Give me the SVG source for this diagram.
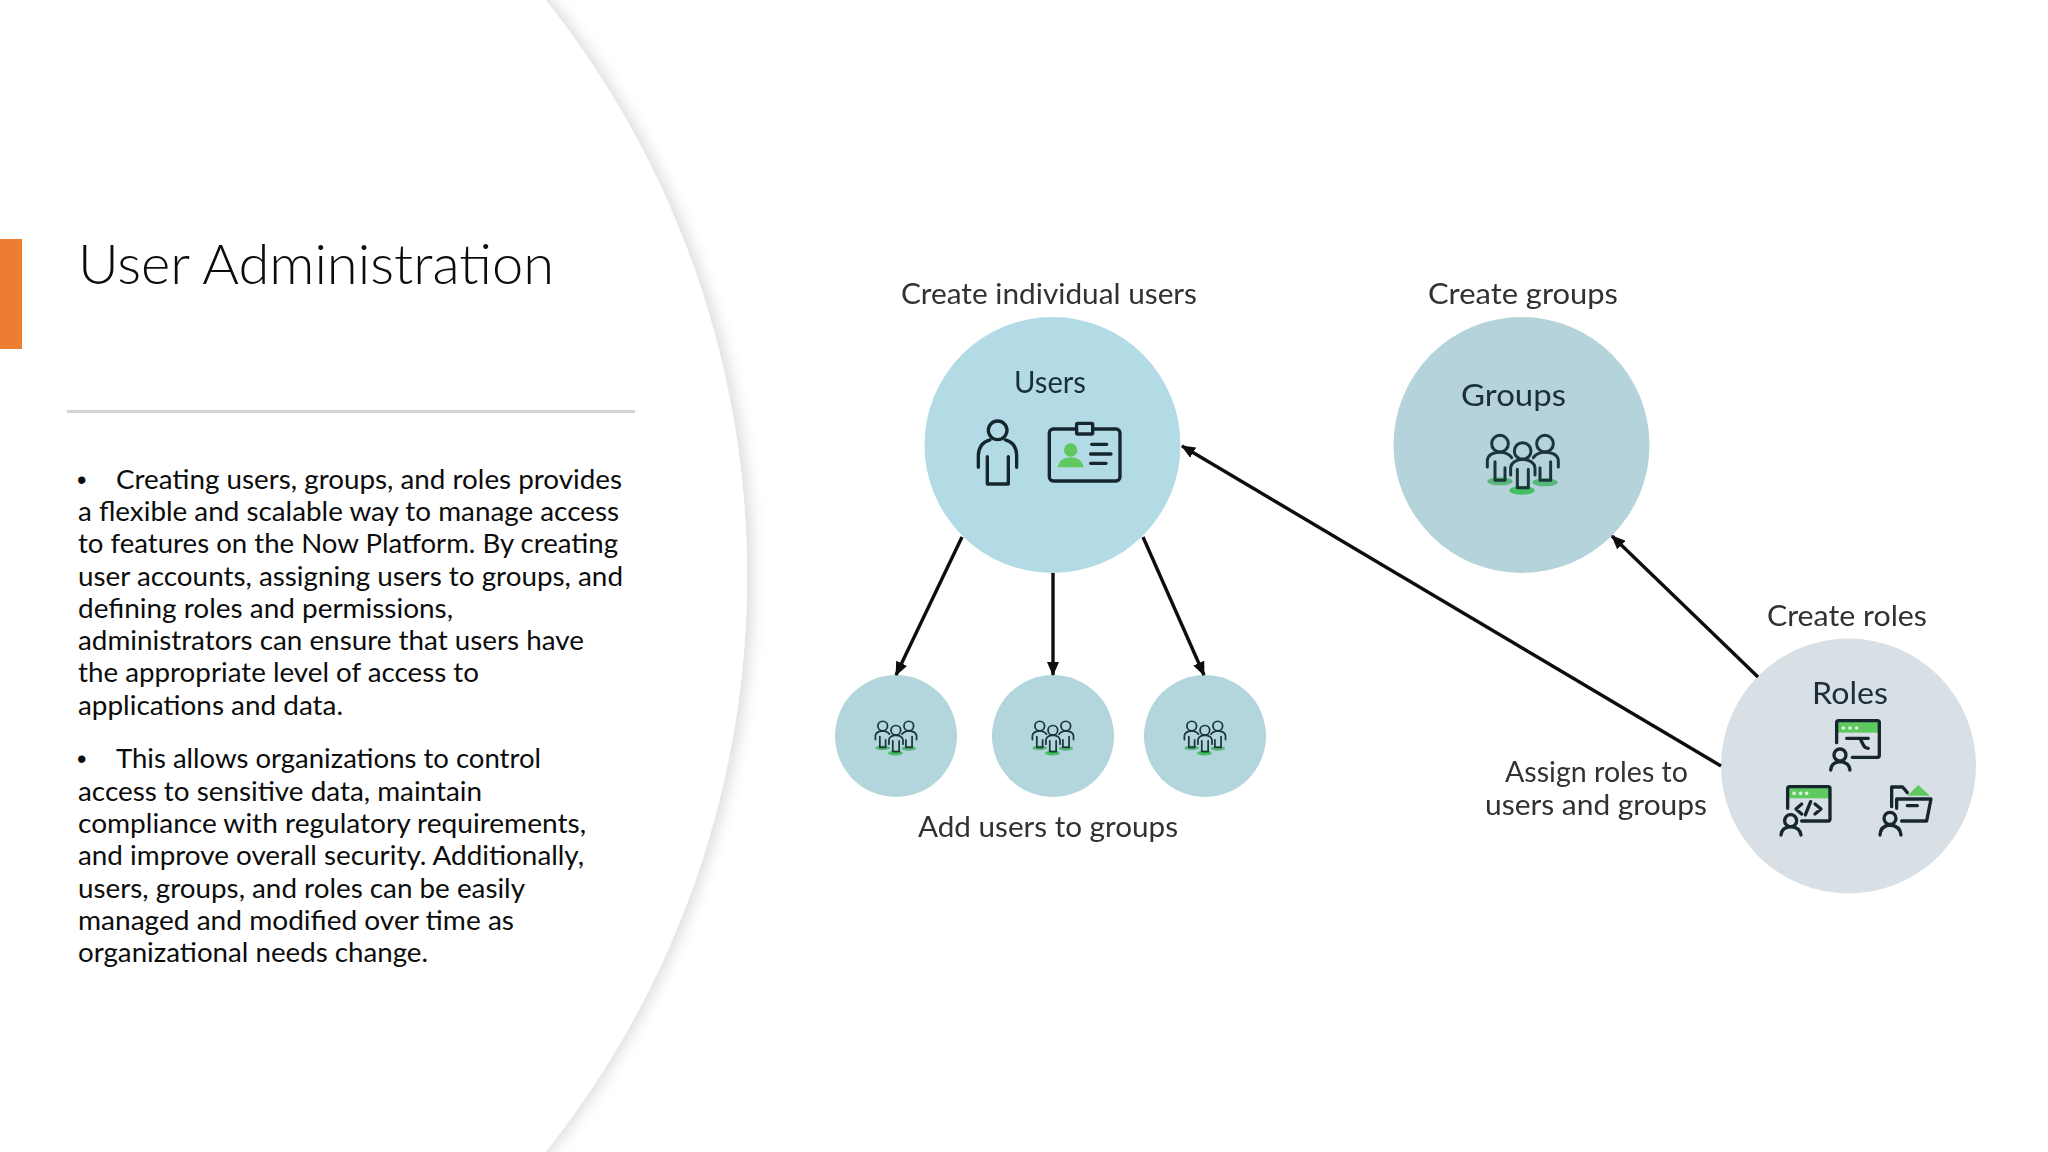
<svg xmlns="http://www.w3.org/2000/svg" xmlns:xlink="http://www.w3.org/1999/xlink" width="2048" height="1152" viewBox="0 0 2048 1152">
<style>
.body{font-family:Lato,"Liberation Sans",sans-serif;font-size:27.5px;fill:#0c0c0c}
.bullet{font-family:"Liberation Sans",sans-serif;font-size:27px;fill:#0c0c0c}
.lab{font-family:Lato,"Liberation Sans",sans-serif;font-size:29px;fill:#303030}
.inner{font-family:Lato,"Liberation Sans",sans-serif;font-size:31px;fill:#1c2f3a}
.ink{fill:none;stroke:#16262e;stroke-width:10;stroke-linecap:round;stroke-linejoin:round}
.teamink{fill:none;stroke:#1a343c;stroke-width:9;stroke-linecap:round;stroke-linejoin:round}
.green{fill:#5fc95f}
.conn{fill:none;stroke:#111;stroke-width:3.4;marker-end:url(#arrow)}
</style>
<defs>
<marker id="arrow" markerUnits="userSpaceOnUse" markerWidth="14" markerHeight="12" refX="13" refY="6" orient="auto"><path d="M0,0 L14,6 L0,12 Z" fill="#111"/></marker>
<filter id="shadow" x="-10%" y="-10%" width="125%" height="120%"><feDropShadow dx="6" dy="0" stdDeviation="7" flood-color="#000" flood-opacity="0.13"/></filter>
<filter id="soft" x="-5%" y="-5%" width="110%" height="110%"><feGaussianBlur stdDeviation="0.6"/></filter>
<g id="team">
<ellipse cx="180" cy="331" rx="38" ry="12" fill="#58b87a"/>
<ellipse cx="315" cy="334" rx="38" ry="12" fill="#58b87a"/>
<ellipse cx="246" cy="358" rx="38" ry="13" fill="#45c060"/>
<circle class="teamink" cx="180" cy="218" r="25"/>
<path class="teamink" d="M142,288 V268 Q145,245 180,243 Q205,245 215,260 M165,272 V328 H195 V290"/>
<circle class="teamink" cx="315" cy="218" r="25"/>
<path class="teamink" d="M355,288 V268 Q352,245 315,243 Q290,245 280,260 M300,290 V328 H332 V272"/>
<circle class="teamink" cx="248" cy="240" r="25"/>
<path class="teamink" d="M212,312 V290 Q215,268 248,265 Q282,268 285,290 V312 M232,295 V350 H265 V295"/>
</g>
</defs>
<rect width="2048" height="1152" fill="#fff"/>
<circle cx="-177" cy="576" r="924" fill="#fff" filter="url(#shadow)"/>
<rect x="0" y="239" width="22" height="110" fill="#ed7d31"/>
<text x="78" y="284" textLength="476" lengthAdjust="spacingAndGlyphs" style="font-family:Lato,'Liberation Sans',sans-serif;font-size:56px;font-weight:300;fill:#0c0c0c">User Administration</text>
<rect x="67" y="410" width="568" height="3" fill="#d2d2d2"/>
<g id="body-text">
<text class="bullet" x="77" y="489">•</text>
<text class="body" x="116" y="489" textLength="506" lengthAdjust="spacingAndGlyphs">Creating users, groups, and roles provides</text>
<text class="body" x="78" y="521" textLength="541" lengthAdjust="spacingAndGlyphs">a flexible and scalable way to manage access</text>
<text class="body" x="78" y="553" textLength="540" lengthAdjust="spacingAndGlyphs">to features on the Now Platform. By creating</text>
<text class="body" x="78" y="586" textLength="545" lengthAdjust="spacingAndGlyphs">user accounts, assigning users to groups, and</text>
<text class="body" x="78" y="618" textLength="375" lengthAdjust="spacingAndGlyphs">defining roles and permissions,</text>
<text class="body" x="78" y="650" textLength="506" lengthAdjust="spacingAndGlyphs">administrators can ensure that users have</text>
<text class="body" x="78" y="682" textLength="401" lengthAdjust="spacingAndGlyphs">the appropriate level of access to</text>
<text class="body" x="78" y="715" textLength="265" lengthAdjust="spacingAndGlyphs">applications and data.</text>
<text class="bullet" x="77" y="768">•</text>
<text class="body" x="116" y="768" textLength="425" lengthAdjust="spacingAndGlyphs">This allows organizations to control</text>
<text class="body" x="78" y="801" textLength="404" lengthAdjust="spacingAndGlyphs">access to sensitive data, maintain</text>
<text class="body" x="78" y="833" textLength="508" lengthAdjust="spacingAndGlyphs">compliance with regulatory requirements,</text>
<text class="body" x="78" y="865" textLength="506" lengthAdjust="spacingAndGlyphs">and improve overall security. Additionally,</text>
<text class="body" x="78" y="898" textLength="447" lengthAdjust="spacingAndGlyphs">users, groups, and roles can be easily</text>
<text class="body" x="78" y="930" textLength="436" lengthAdjust="spacingAndGlyphs">managed and modified over time as</text>
<text class="body" x="78" y="962" textLength="350" lengthAdjust="spacingAndGlyphs">organizational needs change.</text>
</g>
<g id="diagram" filter="url(#soft)">
<g id="node-users">
<circle cx="1052.5" cy="445" r="128" fill="#b2dbe5"/>
<text class="inner" x="1014" y="393" textLength="72" lengthAdjust="spacingAndGlyphs">Users</text>
<g transform="translate(900,260) scale(.3333)">
<circle class="ink" cx="293" cy="511" r="28"/>
<path class="ink" d="M235,622 V585 Q238,548 270,540 M316,540 Q348,548 350,585 V622 M262,590 V672 H325 V590"/>
<rect class="ink" x="448" y="507" width="212" height="156" rx="12"/>
<rect x="530" y="490" width="48" height="32" rx="3" fill="#b2dbe5" stroke="#16262e" stroke-width="10"/>
<circle class="green" cx="512" cy="570" r="20"/>
<path class="green" d="M473,622 Q478,592 512,592 Q546,592 551,622 Z"/>
<path class="ink" d="M575,553 H620 M572,582 H633 M572,610 H618"/>
</g>
</g>
<g id="node-groups">
<circle cx="1521.5" cy="445" r="128" fill="#b5d3da"/>
<text class="inner" x="1461" y="406" textLength="105" lengthAdjust="spacingAndGlyphs">Groups</text>
<g transform="translate(1440,371) scale(.3333)"><use href="#team" xlink:href="#team"/></g>
</g>
<g id="node-group-1">
<circle cx="896" cy="736" r="61" fill="#b3d5dc"/>
<g transform="translate(848,684) scale(.193)"><use href="#team" xlink:href="#team"/></g>
</g>
<g id="node-group-2">
<circle cx="1053" cy="736" r="61" fill="#b3d5dc"/>
<g transform="translate(1005,684) scale(.193)"><use href="#team" xlink:href="#team"/></g>
</g>
<g id="node-group-3">
<circle cx="1205" cy="736" r="61" fill="#b3d5dc"/>
<g transform="translate(1157,684) scale(.193)"><use href="#team" xlink:href="#team"/></g>
</g>
<g id="node-roles">
<circle cx="1848.5" cy="766" r="127.5" fill="#d8e0e5"/>
<text class="inner" x="1812" y="704" textLength="76" lengthAdjust="spacingAndGlyphs">Roles</text>
<g transform="translate(1700,630) scale(.3333)">
<rect class="green" x="410" y="274" width="128" height="34"/>
<path d="M430,294h.1M450,294h.1M470,294h.1" stroke="#dff3df" stroke-width="11" stroke-linecap="round"/>
<path class="ink" d="M410,338 V278 Q410,272 416,272 H532 Q538,272 538,278 V376 Q538,382 532,382 H457"/>
<path class="ink" d="M440,325 H480 L490,345 Q494,355 505,355 M480,325 H505"/>
<circle class="ink" cx="420" cy="375" r="18"/>
<path class="ink" d="M392,420 Q394,397 420,395 Q448,397 450,420"/>
<rect class="green" x="264" y="472" width="126" height="33"/>
<path d="M282,490h.1M302,490h.1M320,490h.1" stroke="#dff3df" stroke-width="11" stroke-linecap="round"/>
<path class="ink" d="M263,535 V476 Q263,470 269,470 H384 Q390,470 390,476 V567 Q390,573 384,573 H305"/>
<path class="ink" d="M305,522 L288,537 L305,552 M332,515 L316,555 M345,522 L363,537 L345,552"/>
<circle class="ink" cx="272" cy="572" r="18"/>
<path class="ink" d="M243,615 Q245,592 272,590 Q300,592 303,615"/>
<path class="green" d="M622,497 L655,465 L690,497 Z"/>
<path class="ink" d="M575,530 V471 H608 L622,488 M590,535 V507 H693 L680,573 H605 M622,527 H652"/>
<circle class="ink" cx="570" cy="565" r="18"/>
<path class="ink" d="M540,615 Q542,587 570,585 Q600,587 603,615"/>
</g>
</g>
<g id="connectors">
<path class="conn" d="M962,537 L896,675"/>
<path class="conn" d="M1053,573 L1053,675"/>
<path class="conn" d="M1143,537 L1204,675"/>
<path class="conn" d="M1721,766 L1182,446"/>
<path class="conn" d="M1758,677 L1612,536"/>
</g>
<g id="labels">
<text class="lab" x="901" y="304" textLength="296" lengthAdjust="spacingAndGlyphs">Create individual users</text>
<text class="lab" x="1428" y="304" textLength="190" lengthAdjust="spacingAndGlyphs">Create groups</text>
<text class="lab" x="1767" y="626" textLength="160" lengthAdjust="spacingAndGlyphs">Create roles</text>
<text class="lab" x="918" y="837" textLength="260" lengthAdjust="spacingAndGlyphs">Add users to groups</text>
<text class="lab" x="1505" y="782" textLength="183" lengthAdjust="spacingAndGlyphs">Assign roles to</text>
<text class="lab" x="1485" y="815" textLength="222" lengthAdjust="spacingAndGlyphs">users and groups</text>
</g>
</g>
</svg>
